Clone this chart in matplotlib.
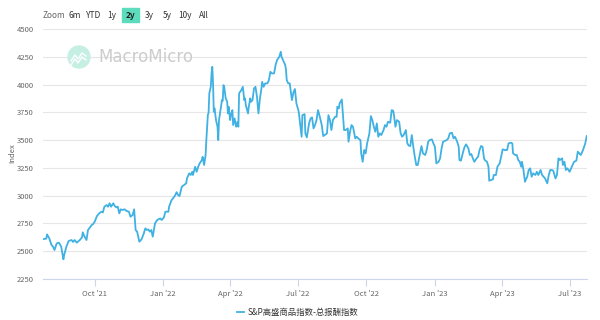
import matplotlib
matplotlib.use("Agg")
import matplotlib.pyplot as plt
import matplotlib.patches as patches
import pandas as pd

# S&P GSCI total return index
dates = [
    "2021-07-24", "2021-07-28", "2021-07-29", "2021-08-01", "2021-08-04", "2021-08-06",
    "2021-08-08", "2021-08-11", "2021-08-14", "2021-08-17", "2021-08-20", "2021-08-21",
    "2021-08-24", "2021-08-27", "2021-08-31", "2021-09-02", "2021-09-04", "2021-09-07",
    "2021-09-11", "2021-09-14", "2021-09-15", "2021-09-17", "2021-09-20", "2021-09-22",
    "2021-09-27", "2021-09-29", "2021-10-01", "2021-10-04", "2021-10-07", "2021-10-10",
    "2021-10-12", "2021-10-14", "2021-10-17", "2021-10-19", "2021-10-21", "2021-10-23",
    "2021-10-26", "2021-10-28", "2021-10-30", "2021-11-01", "2021-11-03", "2021-11-05",
    "2021-11-07", "2021-11-10", "2021-11-13", "2021-11-16", "2021-11-18", "2021-11-21",
    "2021-11-23", "2021-11-25", "2021-11-27", "2021-11-30", "2021-12-03", "2021-12-06",
    "2021-12-08", "2021-12-10", "2021-12-12", "2021-12-14", "2021-12-16", "2021-12-18",
    "2021-12-21", "2021-12-24", "2021-12-28", "2021-12-30", "2022-01-02", "2022-01-04",
    "2022-01-08", "2022-01-09", "2022-01-12", "2022-01-17", "2022-01-19", "2022-01-21",
    "2022-01-23", "2022-01-26", "2022-01-29", "2022-02-01", "2022-02-02", "2022-02-05",
    "2022-02-07", "2022-02-09", "2022-02-10", "2022-02-13", "2022-02-15", "2022-02-17",
    "2022-02-19", "2022-02-22", "2022-02-23", "2022-02-25", "2022-02-27", "2022-02-28",
    "2022-03-02", "2022-03-03", "2022-03-04", "2022-03-06", "2022-03-07", "2022-03-08",
    "2022-03-09", "2022-03-10", "2022-03-11", "2022-03-13", "2022-03-15", "2022-03-16",
    "2022-03-17", "2022-03-19", "2022-03-21", "2022-03-22", "2022-03-23", "2022-03-24",
    "2022-03-26", "2022-03-28", "2022-03-29", "2022-03-30", "2022-04-01", "2022-04-02",
    "2022-04-04", "2022-04-05", "2022-04-07", "2022-04-09", "2022-04-11", "2022-04-12",
    "2022-04-13", "2022-04-16", "2022-04-18", "2022-04-20", "2022-04-21", "2022-04-22",
    "2022-04-25", "2022-04-26", "2022-04-28", "2022-04-29", "2022-05-01", "2022-05-03",
    "2022-05-05", "2022-05-07", "2022-05-09", "2022-05-11", "2022-05-13", "2022-05-14",
    "2022-05-16", "2022-05-18", "2022-05-21", "2022-05-23", "2022-05-25", "2022-05-27",
    "2022-05-30", "2022-06-01", "2022-06-03", "2022-06-06", "2022-06-08", "2022-06-09",
    "2022-06-11", "2022-06-14", "2022-06-15", "2022-06-16", "2022-06-18", "2022-06-20",
    "2022-06-23", "2022-06-25", "2022-06-27", "2022-06-29", "2022-07-02", "2022-07-04",
    "2022-07-06", "2022-07-07", "2022-07-10", "2022-07-11", "2022-07-13", "2022-07-16",
    "2022-07-18", "2022-07-20", "2022-07-22", "2022-07-24", "2022-07-26", "2022-07-28",
    "2022-07-31", "2022-08-02", "2022-08-04", "2022-08-06", "2022-08-09", "2022-08-11",
    "2022-08-13", "2022-08-15", "2022-08-17", "2022-08-20", "2022-08-22", "2022-08-23",
    "2022-08-25", "2022-08-26", "2022-08-29", "2022-08-30", "2022-09-01", "2022-09-03",
    "2022-09-06", "2022-09-07", "2022-09-09", "2022-09-11", "2022-09-13", "2022-09-16",
    "2022-09-18", "2022-09-20", "2022-09-23", "2022-09-24", "2022-09-26", "2022-09-28",
    "2022-09-30", "2022-10-02", "2022-10-05", "2022-10-07", "2022-10-09", "2022-10-11",
    "2022-10-13", "2022-10-15", "2022-10-17", "2022-10-19", "2022-10-21", "2022-10-24",
    "2022-10-26", "2022-10-28", "2022-10-30", "2022-11-02", "2022-11-04", "2022-11-06",
    "2022-11-07", "2022-11-09", "2022-11-11", "2022-11-14", "2022-11-16", "2022-11-18",
    "2022-11-20", "2022-11-23", "2022-11-25", "2022-11-27", "2022-11-29", "2022-12-01",
    "2022-12-03", "2022-12-05", "2022-12-07", "2022-12-09", "2022-12-12", "2022-12-14",
    "2022-12-16", "2022-12-19", "2022-12-21", "2022-12-23", "2022-12-25", "2022-12-28",
    "2022-12-30", "2023-01-01", "2023-01-03", "2023-01-06", "2023-01-08", "2023-01-10",
    "2023-01-12", "2023-01-17", "2023-01-19", "2023-01-21", "2023-01-24", "2023-01-26",
    "2023-01-28", "2023-01-31", "2023-02-02", "2023-02-03", "2023-02-05", "2023-02-08",
    "2023-02-10", "2023-02-12", "2023-02-15", "2023-02-17", "2023-02-19", "2023-02-21",
    "2023-02-23", "2023-02-26", "2023-02-28", "2023-03-02", "2023-03-04", "2023-03-06",
    "2023-03-08", "2023-03-09", "2023-03-12", "2023-03-14", "2023-03-15", "2023-03-17",
    "2023-03-20", "2023-03-21", "2023-03-24", "2023-03-26", "2023-03-29", "2023-03-31",
    "2023-04-02", "2023-04-05", "2023-04-08", "2023-04-10", "2023-04-13", "2023-04-15",
    "2023-04-16", "2023-04-19", "2023-04-21", "2023-04-23", "2023-04-25", "2023-04-27",
    "2023-04-28", "2023-04-30", "2023-05-02", "2023-05-05", "2023-05-07", "2023-05-09",
    "2023-05-11", "2023-05-13", "2023-05-16", "2023-05-18", "2023-05-20", "2023-05-23",
    "2023-05-25", "2023-05-27", "2023-05-29", "2023-06-01", "2023-06-03", "2023-06-05",
    "2023-06-07", "2023-06-09", "2023-06-12", "2023-06-14", "2023-06-16", "2023-06-18",
    "2023-06-21", "2023-06-22", "2023-06-24", "2023-06-26", "2023-06-28", "2023-07-01",
    "2023-07-03", "2023-07-05", "2023-07-07", "2023-07-10", "2023-07-12", "2023-07-14",
    "2023-07-16", "2023-07-19", "2023-07-22", "2023-07-24",
]
values = [
    2608, 2611, 2650, 2614, 2554, 2539,
    2509, 2569, 2575, 2539, 2425, 2464,
    2539, 2590, 2599, 2581, 2599, 2575,
    2599, 2623, 2668, 2635, 2599, 2689,
    2734, 2743, 2764, 2815, 2839, 2854,
    2848, 2899, 2914, 2899, 2930, 2899,
    2930, 2905, 2894, 2899, 2839, 2876,
    2869, 2876, 2860, 2854, 2809, 2824,
    2876, 2689, 2674, 2584, 2605, 2659,
    2704, 2689, 2695, 2674, 2689, 2629,
    2749, 2779, 2794, 2779, 2803, 2854,
    2854, 2900, 2955, 3000, 3030, 3005,
    2995, 3079, 3094, 3110, 3155, 3200,
    3185, 3214, 3185, 3259, 3214, 3259,
    3290, 3320, 3349, 3275, 3365, 3500,
    3725, 3746, 3921, 3980, 4101, 4160,
    4011, 3755, 3785, 3680, 3620, 3500,
    3680, 3770, 3860, 3854, 3995, 3980,
    3876, 3845, 3740, 3800, 3680, 3725,
    3770, 3635, 3695, 3620, 3665, 3620,
    3921, 3950, 3980, 3860, 3876, 3815,
    3740, 3800, 3876, 3845, 3860, 3965,
    3980, 3890, 3740, 3876, 3965, 4025,
    3980, 4011, 4011, 4040, 4115, 4101,
    4101, 4176, 4221, 4251, 4296, 4251,
    4221, 4176, 4131, 4040, 4011, 4011,
    3860, 3930, 3960, 3830, 3760, 3645,
    3530, 3725, 3734, 3560, 3524, 3650,
    3695, 3704, 3605, 3635, 3680, 3770,
    3695, 3635, 3536, 3545, 3560, 3725,
    3680, 3590, 3680, 3710, 3710, 3800,
    3785, 3830, 3866, 3770, 3590, 3590,
    3605, 3485, 3575, 3635, 3620, 3515,
    3530, 3515, 3500, 3380, 3304, 3410,
    3380, 3470, 3560, 3716, 3680, 3620,
    3575, 3650, 3530, 3560, 3545, 3590,
    3635, 3620, 3665, 3656, 3770, 3764,
    3725, 3620, 3680, 3665, 3560, 3530,
    3545, 3590, 3470, 3449, 3446, 3545,
    3440, 3350, 3275, 3275, 3380, 3446,
    3380, 3365, 3410, 3485, 3500, 3506,
    3470, 3440, 3290, 3304, 3335, 3425,
    3485, 3500, 3515, 3560, 3566, 3515,
    3530, 3485, 3440, 3320, 3314, 3395,
    3440, 3461, 3425, 3365, 3374, 3335,
    3304, 3335, 3349, 3410, 3446, 3440,
    3335, 3320, 3304, 3259, 3133, 3139,
    3146, 3185, 3185, 3259, 3290, 3349,
    3416, 3410, 3410, 3470, 3476, 3470,
    3380, 3365, 3365, 3320, 3304, 3259,
    3304, 3230, 3124, 3169, 3230, 3245,
    3169, 3200, 3185, 3214, 3185, 3230,
    3185, 3169, 3154, 3110, 3185, 3230,
    3230, 3224, 3154, 3185, 3335, 3320,
    3335, 3275, 3304, 3230, 3245, 3214,
    3245, 3275, 3304, 3314, 3395, 3380,
    3365, 3410, 3470, 3536,
]

series_name = "S&P高盛商品指数-总报酬指数"
y_ticks = [2250, 2500, 2750, 3000, 3250, 3500, 3750, 4000, 4250, 4500]
x_ticks = ["2021-10-01", "2022-01-01", "2022-04-01", "2022-07-01",
           "2022-10-01", "2023-01-01", "2023-04-01", "2023-07-01"]
x_tick_labels = ["Oct '21", "Jan '22", "Apr '22", "Jul '22",
                 "Oct '22", "Jan '23", "Apr '23", "Jul '23"]
zoom_buttons = ["6m", "YTD", "1y", "2y", "3y", "5y", "10y", "All"]
selected_button = "2y"

plt.rcParams["font.family"] = ["Noto Sans CJK SC", "DejaVu Sans"]

df = pd.DataFrame({"date": pd.to_datetime(dates), "value": values})

W, H = 600, 320
fig = plt.figure(figsize=(6, 3.2), dpi=100)
ax = fig.add_axes([0.0722, 0.129, 0.9057, 0.780])

ax.plot(df["date"], df["value"], color="#3fb1e3", linewidth=1.3)

ax.set_xlim(pd.Timestamp("2021-07-24"), pd.Timestamp("2023-07-24"))
ax.set_ylim(2250, 4500)
ax.set_yticks(y_ticks)
ax.set_yticklabels([str(v) for v in y_ticks])
ax.set_xticks(pd.to_datetime(x_ticks))
ax.set_xticklabels(x_tick_labels)

ax.grid(axis="y", color="#e6e6e6", linewidth=0.8)
ax.set_axisbelow(True)
for side in ["top", "right", "left"]:
    ax.spines[side].set_visible(False)
ax.spines["bottom"].set_color("#ccd6eb")
ax.spines["bottom"].set_linewidth(0.8)
ax.tick_params(axis="y", length=0, pad=7, labelsize=5.5, labelcolor="#666666")
ax.tick_params(axis="x", length=5, width=0.8, color="#ccd6eb", pad=3,
               labelsize=5.5, labelcolor="#666666")

fig.text(12 / W, 1 - 153 / H, "Index", fontsize=5.5, color="#666666",
         rotation=90, va="center", ha="center")

# watermark: round logo with a small chart glyph, then the brand name
fig.patches.append(patches.Ellipse((79 / W, 1 - 57 / H), 22 / W, 22 / H,
                                   transform=fig.transFigure, color="#c6efe3",
                                   zorder=0))
glyph_x = [71, 75, 78, 82, 86]
glyph_y = [61, 55, 59, 53, 56]
fig.lines.append(plt.Line2D([gx / W for gx in glyph_x],
                            [1 - gy / H for gy in glyph_y],
                            transform=fig.transFigure, color="white",
                            linewidth=1.0, zorder=1))
fig.lines.append(plt.Line2D([gx / W for gx in glyph_x],
                            [1 - (gy + 4) / H for gy in glyph_y],
                            transform=fig.transFigure, color="white",
                            linewidth=1.0, zorder=1))
fig.text(98 / W, 1 - 57 / H, "MacroMicro", fontsize=12, color="#cccccc",
         va="center", ha="left", family="DejaVu Sans", zorder=0)

# range selector
fig.text(43 / W, 1 - 15 / H, "Zoom", fontsize=6, color="#666666",
         va="center", ha="left")
button_x = [75, 94, 112, 130, 149, 167, 185, 204]
for label, bx in zip(zoom_buttons, button_x):
    if label == selected_button:
        fig.patches.append(patches.Rectangle(((bx - 8) / W, 1 - 22 / H),
                                             17 / W, 14 / H,
                                             transform=fig.transFigure,
                                             color="#5cdbbd", zorder=1))
        fig.text(bx / W, 1 - 15 / H, label, fontsize=6, color="#222222",
                 va="center", ha="center", fontweight="bold", zorder=2)
    else:
        fig.text(bx / W, 1 - 15 / H, label, fontsize=6, color="#333333",
                 va="center", ha="center")

# legend
fig.lines.append(plt.Line2D([236.5 / W, 244.5 / W], [1 - 312 / H] * 2,
                            transform=fig.transFigure, color="#3fb1e3",
                            linewidth=1.3))
fig.text(248 / W, 1 - 312 / H, series_name, fontsize=6, color="#333333",
         va="center", ha="left")

fig.savefig("out.png", dpi=100)
